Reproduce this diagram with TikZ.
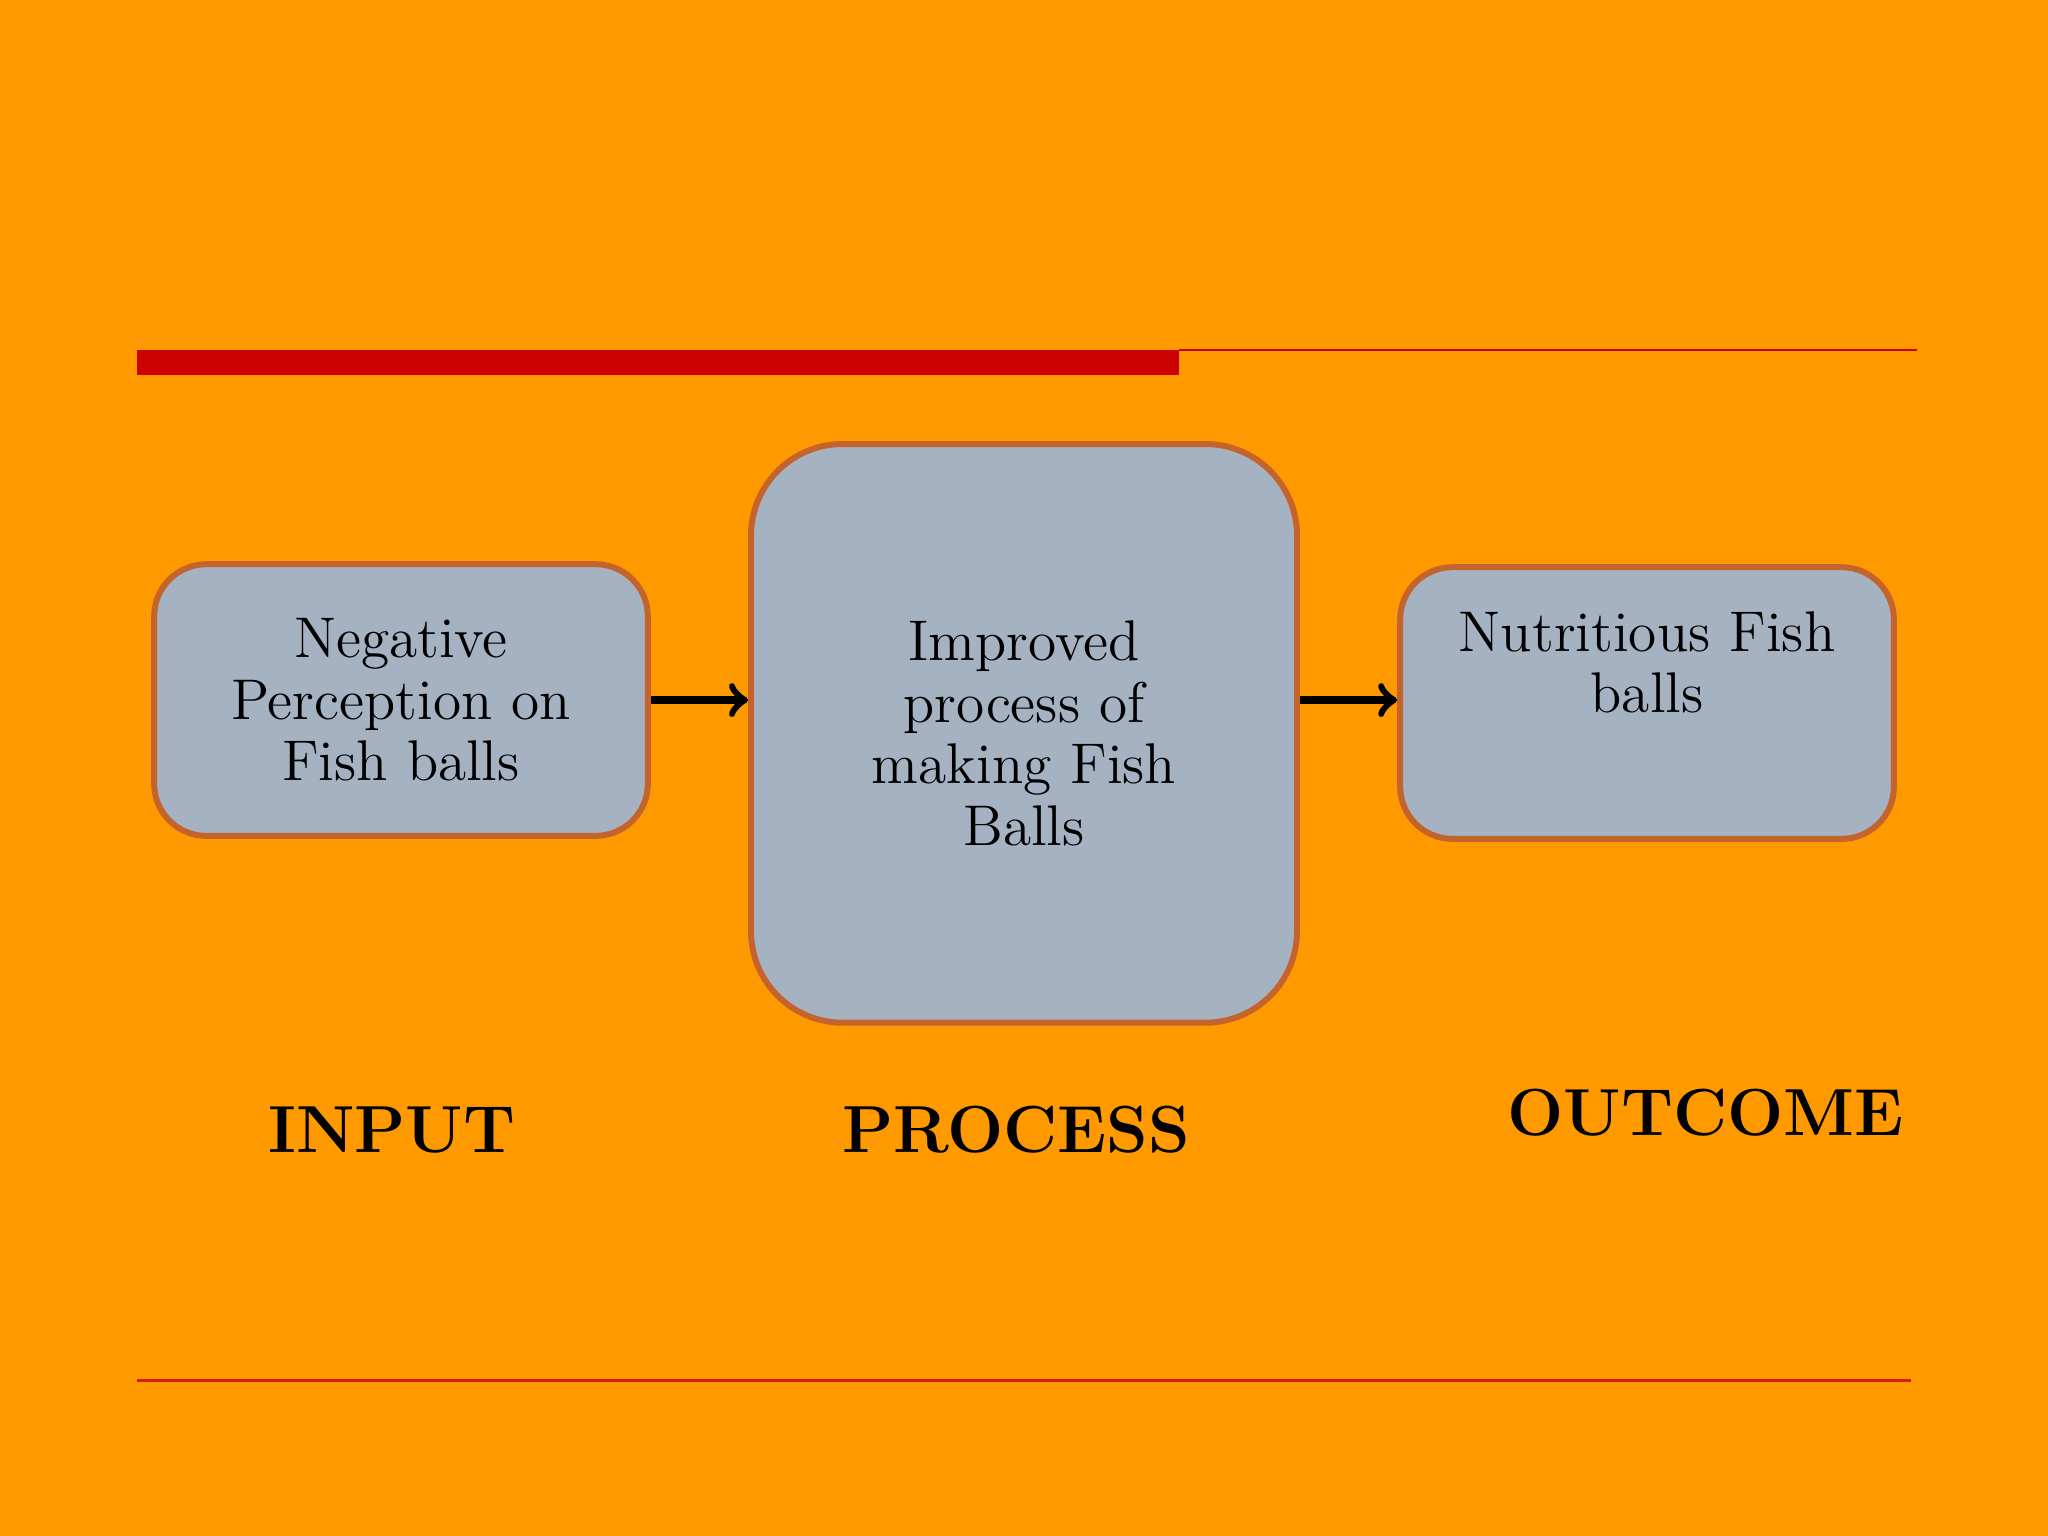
\documentclass[tikz,border=0pt]{standalone}
\usepackage{tikz}
\usetikzlibrary{arrows}
\definecolor{bgorange}{HTML}{FF9900}
\definecolor{boxgrey}{HTML}{A5B2C2}
\definecolor{boxedge}{HTML}{C4642C}
\definecolor{barred}{HTML}{CC0000}
\tikzset{
  flowbox/.style={draw=boxedge, line width=1.3pt, fill=boxgrey, align=center, font=\fontsize{12.5}{13.4}\selectfont},
  steplabel/.style={font=\fontsize{14.5}{16}\selectfont\bfseries}
}
\begin{document}
\begin{tikzpicture}
\fill[bgorange] (0,0) rectangle (15.68,11.76);
\useasboundingbox (0,0) rectangle (15.68,11.76);
\fill[barred] (1.05,8.89) rectangle (9.03,9.08);
\draw[barred, line width=0.6pt] (9.03,9.08) -- (14.68,9.08);
\draw[barred!80!bgorange, line width=0.5pt] (1.05,1.19) -- (14.63,1.19);
\node [flowbox, rounded corners=0.4cm, minimum width=3.78cm, minimum height=2.08cm, text width=3cm] (A) at (3.07,6.40) {Negative\\Perception on\\Fish balls};
\node [flowbox, rounded corners=0.7cm, minimum width=4.18cm, minimum height=4.43cm, text width=3cm] (B) at (7.84,6.145) {Improved\\process of\\making Fish\\Balls};
\node [flowbox, rounded corners=0.4cm, minimum width=3.78cm, minimum height=2.08cm, text width=3cm, anchor=north, text depth=1.1cm] (C) at (12.61,7.44) {Nutritious Fish\\balls};
\draw[-to, line width=1.6pt] (A.east) -- (A.east -| B.west);
\draw[-to, line width=1.6pt] (A.east -| B.east) -- (A.east -| C.west);
\node [steplabel] (I) at (3.00,3.11) {INPUT};
\node [steplabel] (P) at (7.78,3.11) {PROCESS};
\node [steplabel] (O) at (13.06,3.24) {OUTCOME};
\end{tikzpicture}
\end{document}
